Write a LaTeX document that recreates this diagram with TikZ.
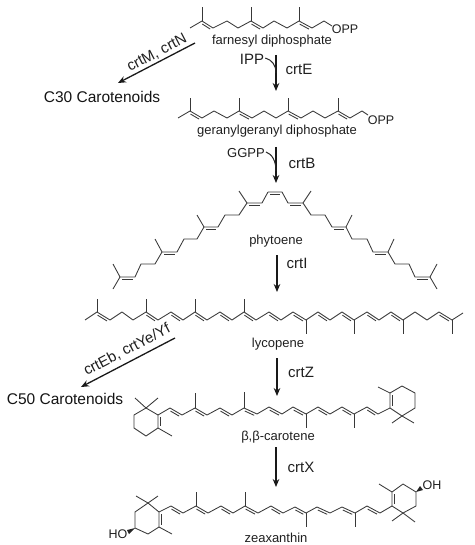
\documentclass[tikz,border=0pt]{standalone}
\usepackage{fontspec}
\setmainfont{Liberation Sans}
\usetikzlibrary{arrows.meta,calc}
\tikzset{
  bond/.style={line width=0.85pt, black!78, line join=round},
  rxn/.style={-{Stealth[length=2.8mm, width=2.3mm]}, line width=1.3pt, black!90},
  cosub/.style={line width=1pt, black!85},
  compound/.style={font=\fontsize{13}{15}\selectfont, text=black!88, inner sep=0pt},
  enzyme/.style={font=\fontsize{15}{17}\selectfont, text=black!88, inner sep=0pt},
  product/.style={font=\fontsize{15.5}{18}\selectfont, text=black!92, inner sep=0pt},
  atoms/.style={font=\fontsize{12.5}{15}\selectfont, text=black!88, inner sep=0pt}
}
\newcommand{\dbond}[3]{\draw[bond] ($(#1)!.14!(#2)!#3!90:(#2)$) -- ($(#2)!.14!(#1)!#3!-90:(#1)$);}
\begin{document}
\begin{tikzpicture}[x=1pt, y=-1pt]
  \useasboundingbox (0,0) rectangle (474,545);
  % farnesyl diphosphate
  \draw[bond] (190,28) -- (202,21) -- (213,28) -- (227,21) -- (238,28) -- (251,21) -- (263,28) -- (274,21) -- (287,28) -- (299,21) -- (312,28) -- (324,21) -- (332,26);
  \draw[bond] (202,21) -- (202,7) (251,21) -- (251,7) (299,21) -- (299,7);
  \foreach \x/\y/\u/\v in {202/21/213/28, 251/21/263/28, 299/21/312/28} \dbond{\x,\y}{\u,\v}{-2.4pt};
  \node[atoms] (opp1) at (345,29) {OPP};
  \node[compound] (farnesyl) at (272,41) {farnesyl diphosphate};
  % geranylgeranyl diphosphate
  \draw[bond] (178,118) -- (190,111) -- (202,118) -- (214,111) -- (227,118) -- (239,111) -- (252,118) -- (264,111) -- (276,118) -- (288,111) -- (301,118) -- (313,111) -- (325,118) -- (338,111) -- (350,118) -- (362,111) -- (368,115);
  \draw[bond] (190,111) -- (190,98) (239,111) -- (239,98) (288,111) -- (288,98) (338,111) -- (338,98);
  \foreach \x/\y/\u/\v in {190/111/202/118, 239/111/252/118, 288/111/301/118, 338/111/350/118} \dbond{\x,\y}{\u,\v}{-2.4pt};
  \node[atoms] (opp2) at (381,120) {OPP};
  \node[compound] (geranyl) at (277,131) {geranylgeranyl diphosphate};
  % phytoene
  \draw[bond] (268,192) -- (282,192) -- (288,203) -- (303,203) -- (311,215) -- (325,215) -- (332,227) -- (346,227) -- (352,239) -- (367,239) -- (373,252) -- (388,252) -- (395,264) -- (409,264) -- (415,277) -- (430,277);
  \draw[bond] (268,192) -- (262,203) -- (247,203) -- (239,215) -- (225,215) -- (218,227) -- (204,227) -- (197,239) -- (184,239) -- (177,252) -- (162,252) -- (155,264) -- (141,264) -- (135,277) -- (120,277);
  \draw[bond] (247,203) -- (239,191) (204,227) -- (197,215) (162,252) -- (155,239) (120,277) -- (113,264) (120,277) -- (113,289);
  \draw[bond] (303,203) -- (311,191) (346,227) -- (352,215) (388,252) -- (394,239) (430,277) -- (437,264) (430,277) -- (437,289);
  \foreach \x/\y/\u/\v in {268/192/282/192, 288/203/303/203, 332/227/346/227, 373/252/388/252, 415/277/430/277, 247/203/262/203, 204/227/218/227, 162/252/177/252, 120/277/135/277} \dbond{\x,\y}{\u,\v}{-2.4pt};
  \node[compound] (phytoene) at (276,241) {phytoene};
  % lycopene
  \draw[bond] (85,320) -- (97,312) -- (110,320) -- (122,312) -- (133,320) -- (146,312) -- (158,320) -- (171,312) -- (183,320) -- (195,312) -- (207,320) -- (220,312) -- (232,320) -- (244,312) -- (256,320) -- (269,312) -- (281,320) -- (293,312) -- (306,320) -- (318,312) -- (330,320) -- (342,312) -- (354,320) -- (367,312) -- (379,320) -- (391,312) -- (403,320) -- (415,312) -- (427,320) -- (439,312) -- (452,320) -- (463,313);
  \draw[bond] (97,312) -- (97,299) (146,312) -- (146,299) (195,312) -- (195,299) (244,312) -- (244,299);
  \draw[bond] (306,320) -- (306,334) (354,320) -- (354,334) (403,320) -- (403,334) (452,320) -- (452,334);
  \foreach \x/\y/\u/\v in {97/312/110/320, 146/312/158/320, 171/312/183/320, 195/312/207/320, 220/312/232/320, 244/312/256/320, 269/312/281/320, 293/312/306/320, 318/312/330/320, 342/312/354/320, 367/312/379/320, 391/312/403/320, 439/312/452/320} \dbond{\x,\y}{\u,\v}{-2.4pt};
  \node[compound] (lycopene) at (278,344) {lycopene};
  % beta,beta-carotene
  \draw[bond] (146,408) -- (134,415) -- (134,428) -- (146,436) -- (158,428) -- (158,415) -- cycle;
  \draw[bond] (146,408) -- (135,398) (146,408) -- (158,398) (158,428) -- (172,436);
  \draw[bond] (158,415) -- (170,408) -- (182,415) -- (195,408) -- (207,415) -- (220,408) -- (232,415) -- (244,408) -- (257,414) -- (269,407) -- (282,414) -- (293,407) -- (306,414) -- (318,407) -- (330,414) -- (342,407) -- (354,414) -- (367,407) -- (378,414) -- (390,408);
  \draw[bond] (195,408) -- (195,393) (244,408) -- (244,392) (306,414) -- (306,428) (354,414) -- (354,428);
  \draw[bond] (390,408) -- (390,393) -- (402,386) -- (415,393) -- (415,408) -- (402,416) -- cycle;
  \draw[bond] (390,393) -- (378,387) (402,416) -- (392,423) (402,416) -- (414,423);
  \foreach \x/\y/\u/\v in {170/408/182/415, 195/408/207/415, 220/408/232/415, 244/408/257/414, 269/407/282/414, 293/407/306/414, 318/407/330/414, 342/407/354/414, 367/407/378/414} \dbond{\x,\y}{\u,\v}{-2.4pt};
  \dbond{158,415}{158,428}{2.4pt}
  \dbond{390,408}{390,393}{-2.4pt}
  \node[compound] (carotene) at (278,437) {β,β-carotene};
  % zeaxanthin
  \draw[bond] (148,503) -- (135,512) -- (135,528) -- (148,534) -- (159,527) -- (159,512) -- cycle;
  \draw[bond] (148,503) -- (136,496) (148,503) -- (158,496) (159,527) -- (172,534);
  \draw[bond] (159,512) -- (171,506) -- (183,513) -- (196,506) -- (208,513) -- (221,506) -- (233,513) -- (245,506) -- (258,513) -- (271,506) -- (283,513) -- (295,507) -- (306,513) -- (317,507) -- (330,513) -- (342,507) -- (355,513) -- (367,506) -- (380,513) -- (392,506);
  \draw[bond] (196,506) -- (196,492) (245,506) -- (245,492) (306,513) -- (306,527) (355,513) -- (355,527);
  \draw[bond] (392,506) -- (392,492) -- (403,484) -- (416,492) -- (416,506) -- (403,513) -- cycle;
  \draw[bond] (392,492) -- (379,484) (403,513) -- (392,521) (403,513) -- (415,522);
  \foreach \x/\y/\u/\v in {171/506/183/513, 196/506/208/513, 221/506/233/513, 245/506/258/513, 271/506/283/513, 295/507/306/513, 317/507/330/513, 342/507/355/513, 367/506/380/513} \dbond{\x,\y}{\u,\v}{-2.4pt};
  \dbond{159,512}{159,527}{2.4pt}
  \dbond{392,506}{392,492}{-2.4pt}
  \fill[black!85] (135,528) -- (127,530) -- (129,534) -- cycle;
  \fill[black!85] (416,492) -- (420,486) -- (423,490) -- cycle;
  \node[atoms] (ho) at (118,534) {HO};
  \node[atoms] (oh) at (432,485) {OH};
  \node[compound] (zeaxanthin) at (276,538) {zeaxanthin};
  % side products
  \node[product] (c30) at (102,97) {C30 Carotenoids};
  \node[product] (c50) at (65,399) {C50 Carotenoids};
  \coordinate (c30from) at (195,43);
  \coordinate (c30to) at (118,83);
  \coordinate (c50from) at (175,338);
  \coordinate (c50to) at (81,387);
  \draw[rxn] (c30from) -- (c30to);
  \draw[rxn] (c50from) -- (c50to);
  \node[enzyme, rotate=27.5] (crtmn) at (157,53) {crtM, crtN};
  \node[enzyme, rotate=27.5] (crteb) at (127,350) {crtEb, crtYe/Yf};
  % main pathway
  \foreach \n/\x/\y/\v in {e/276/55/91, b/276/147/183, i/277/255/292, z/277/358/396, x/276/447/487} {
    \coordinate (\n top) at (\x,\y);
    \coordinate (\n end) at (\x,\v);
    \draw[rxn] (\n top) -- (\n end);
  }
  \node[enzyme] (crte) at (299,69) {crtE};
  \node[enzyme] (crtb) at (302,163) {crtB};
  \node[enzyme] (crti) at (297,263) {crtI};
  \node[enzyme] (crtz) at (301,372) {crtZ};
  \node[enzyme] (crtx) at (301,467) {crtX};
  % co-substrates
  \node[enzyme] (ipp) at (252,59) {IPP};
  \node[compound] (ggpp) at (246,153) {GGPP};
  \coordinate (ippin) at (276,73);
  \coordinate (ggppin) at (276,171);
  \draw[cosub] (ipp.east) ++(1,-1) .. controls (272,60) and (276,65) .. (ippin);
  \draw[cosub] (ggpp.east) ++(1,-1) .. controls (272,154) and (276,161) .. (ggppin);
\end{tikzpicture}
\end{document}
